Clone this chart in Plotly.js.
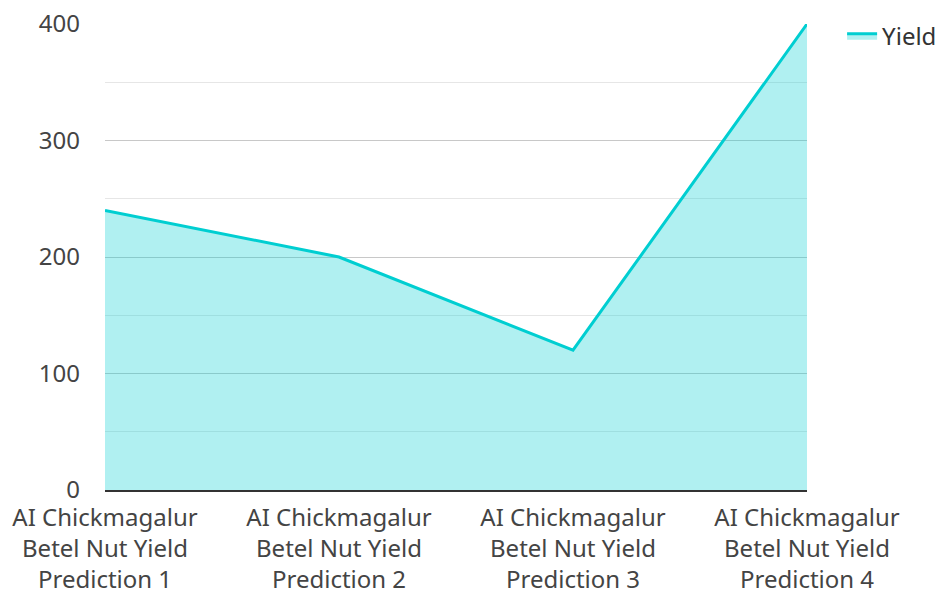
<!DOCTYPE html>
<html><head><meta charset="utf-8">
<script src="https://cdn.plot.ly/plotly-3.0.1.min.js"></script>
<style>body{margin:0;}#c{width:949px;height:594px;}</style>
</head><body><div id="c"></div>
<script>
const categories = [
  "AI Chickmagalur<br>Betel Nut Yield<br>Prediction 1",
  "AI Chickmagalur<br>Betel Nut Yield<br>Prediction 2",
  "AI Chickmagalur<br>Betel Nut Yield<br>Prediction 3",
  "AI Chickmagalur<br>Betel Nut Yield<br>Prediction 4"
];
const yieldValues = [240, 200, 120, 400];
const seriesName = "Yield";
const yTicks = [0, 100, 200, 300, 400];

const font = "Noto Sans, Open Sans, sans-serif";
Plotly.newPlot("c", [{
  x: categories, y: yieldValues, name: seriesName,
  type: "scatter", mode: "lines", fill: "tozeroy",
  fillcolor: "rgba(0,206,209,0.31)",
  line: {color: "#00CED1", width: 3}
}], {
  width: 949, height: 594,
  margin: {l: 105, r: 142, t: 24, b: 104, autoexpand: false},
  paper_bgcolor: "#fff", plot_bgcolor: "#fff",
  font: {family: font, size: 24, color: "#444"},
  showlegend: true,
  legend: {x: 1.05, y: 1.022, xanchor: "left", yanchor: "top", font: {size: 24, color: "#333"}},
  xaxis: {type: "category", range: [0, 3], showgrid: false, zeroline: false, automargin: false,
          showline: true, linecolor: "#333", linewidth: 2, ticks: "", ticklabelstandoff: 5,
          tickfont: {size: 24, color: "#444"}},
  yaxis: {range: [0, 400], tickvals: yTicks, showline: false, zeroline: false, automargin: false,
          gridcolor: "#c8c8c8", gridwidth: 1, ticks: "", ticklabelstandoff: 24,
          tickfont: {size: 24, color: "#444"},
          minor: {dtick: 50, showgrid: true, gridcolor: "#e6e6e6", gridwidth: 1}}
}, {displayModeBar: false, staticPlot: true});
</script></body></html>
